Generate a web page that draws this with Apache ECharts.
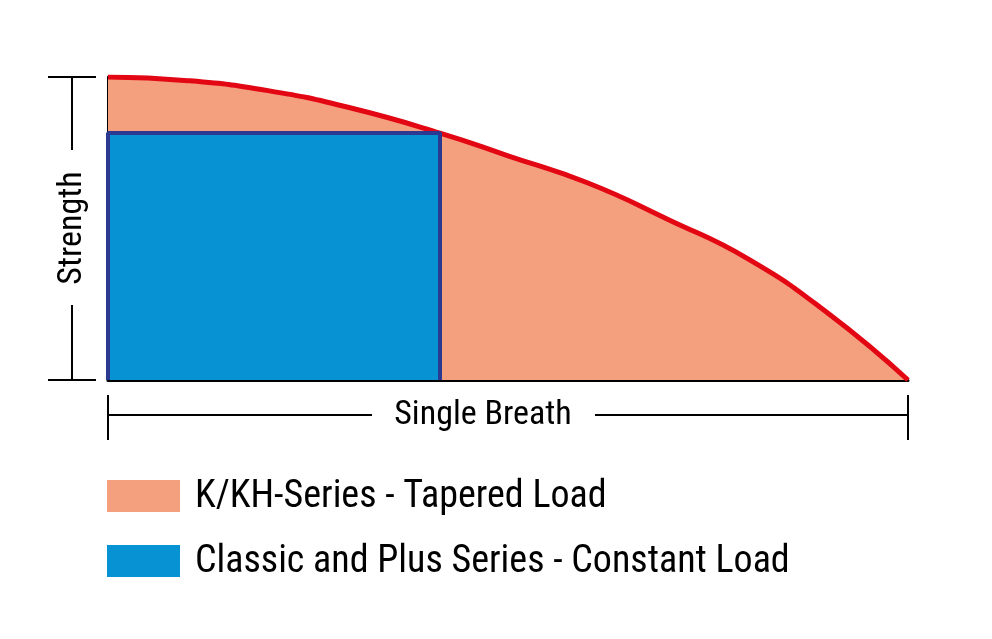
<!DOCTYPE html><html><head><meta charset="utf-8">
<script src="https://cdn.jsdelivr.net/npm/echarts@6/dist/echarts.min.js"></script>
<style>html,body{margin:0;background:#fff}#c{width:992px;height:639px}</style></head><body><div id="c"></div>
<script>
const curveX=[0,10,20,30,41.5,50,60,70,80,90,100];
const curveY=[100,98.8,95.5,90,81.5,74,65,53,40,22,0];
const rectX=[0,0,41.5,41.5];
const rectY=[0,81.5,81.5,0];
const legendNames=['K/KH-Series - Tapered Load','Classic and Plus Series - Constant Load'];
const F='"Liberation Sans Narrow","Roboto Condensed","Liberation Sans",sans-serif';
const ch=echarts.init(document.getElementById('c'));
const L=(x1,y1,x2,y2)=>({type:'line',shape:{x1,y1,x2,y2},style:{stroke:'#000',lineWidth:2}});
ch.setOption({
 animation:false,
 grid:{left:108,right:84,top:77,bottom:259},
 xAxis:{type:'value',min:0,max:100,axisLine:{lineStyle:{color:'#000',width:3}},axisTick:{show:false},axisLabel:{show:false},splitLine:{show:false}},
 yAxis:{type:'value',min:0,max:100,axisLine:{lineStyle:{color:'#000',width:3}},axisTick:{show:false},axisLabel:{show:false},splitLine:{show:false}},
 series:[
  {type:'line',smooth:true,symbol:'none',data:curveX.map((x,i)=>[x,curveY[i]]),lineStyle:{color:'#e30613',width:5},areaStyle:{color:'#f4a07e',opacity:1},z:1},
  {type:'line',symbol:'none',data:rectX.map((x,i)=>[x,rectY[i]]),lineStyle:{color:'#2b3990',width:4},areaStyle:{color:'#0792d3',opacity:1},z:2}
 ],
 graphic:[
  L(48,77,96,77),L(48,380,96,380),L(72,77,72,150),L(72,305,72,380),
  {type:'text',x:72,y:228,rotation:Math.PI/2,style:{text:'Strength',font:'34px '+F,fill:'#000',align:'center',verticalAlign:'middle'}},
  L(108,395,108,440),L(908,395,908,440),L(108,415,372,415),L(595,415,908,415),
  {type:'text',x:483,y:415,style:{text:'Single Breath',font:'34px '+F,fill:'#000',align:'center',verticalAlign:'middle'}},
  {type:'rect',shape:{x:107,y:480,width:73,height:32},style:{fill:'#f4a07e'}},
  {type:'rect',shape:{x:107,y:545,width:73,height:32},style:{fill:'#0792d3'}},
  {type:'text',x:195,y:497,style:{text:legendNames[0],font:'38px '+F,fill:'#000',verticalAlign:'middle'}},
  {type:'text',x:195,y:562,style:{text:legendNames[1],font:'38px '+F,fill:'#000',verticalAlign:'middle'}}
 ]
});
</script></body></html>
